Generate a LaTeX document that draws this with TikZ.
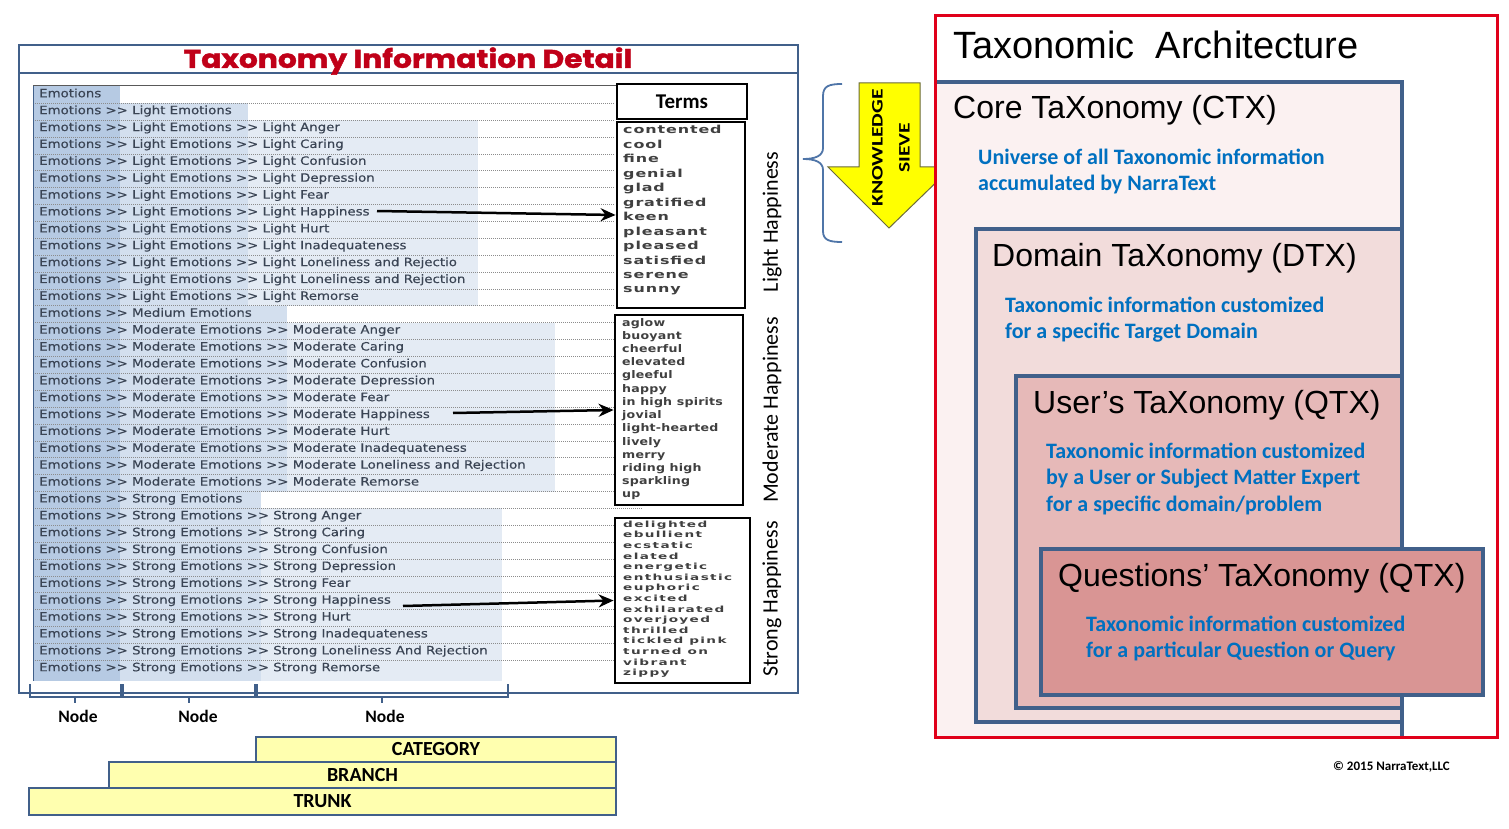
\documentclass[tikz,border=0pt]{standalone}
\usepackage{graphicx}
\usepackage{fontspec}
\setmainfont{Carlito}
\newfontfamily\rowfont{DejaVu Sans}[FakeStretch=1.16,Ligatures=TeXOff,FakeBold=0.4]
\newfontfamily\termfont{DejaVu Sans Bold}[FakeStretch=1.45,LetterSpace=8]
\newfontfamily\termfontB{DejaVu Sans Bold}[FakeStretch=1.2,LetterSpace=2]
\newfontfamily\termfontC{DejaVu Sans Bold}[FakeStretch=1.6,LetterSpace=16]
\newfontfamily\arialf{Liberation Sans}
\newfontfamily\titlef{Poppins}[FakeBold=1.5]
\usetikzlibrary{arrows.meta,calc}
\definecolor{frame}{HTML}{41608A}
\definecolor{braceblue}{HTML}{4F75A8}
\definecolor{shA}{HTML}{B6CAE3}
\definecolor{shB}{HTML}{D3DFEE}
\definecolor{shC}{HTML}{E4EBF4}
\definecolor{rowgray}{HTML}{3A4454}
\definecolor{termgray}{HTML}{404040}
\definecolor{sepgray}{HTML}{8C8C8C}
\definecolor{ttlred}{HTML}{C00018}
\definecolor{barfill}{HTML}{FFFFAF}
\definecolor{bluetxt}{HTML}{0070C0}
\definecolor{ctxfill}{HTML}{FBF1F1}
\definecolor{dtxfill}{HTML}{F2DCDB}
\definecolor{utxfill}{HTML}{E6B9B8}
\definecolor{qtxfill}{HTML}{D99594}
\definecolor{redframe}{HTML}{E0001A}
\definecolor{sieveyellow}{HTML}{FFFF00}
\definecolor{sieveedge}{HTML}{6B6B3A}
\tikzset{
  rowlabel/.style={inner sep=0pt, anchor=base west, text=rowgray, font=\rowfont\fontsize{11.5}{13}\selectfont},
  termA/.style={inner sep=0pt, anchor=base west, text=termgray, font=\termfont\fontsize{11}{13}\selectfont},
  termB/.style={inner sep=0pt, anchor=base west, text=termgray, font=\termfontB\fontsize{10.5}{13}\selectfont},
  termC/.style={inner sep=0pt, anchor=base west, text=termgray, font=\termfontC\fontsize{8.5}{10}\selectfont},
  tbox/.style={draw=black, line width=2.8pt, fill=white, inner sep=0pt},
  sepline/.style={sepgray, line width=0.8pt, dash pattern=on 1pt off 1pt},
  arr/.style={draw=black, line width=2.5pt, -{Stealth[length=15pt,width=13pt]}},
  sidelab/.style={rotate=90, inner sep=0pt, font=\fontsize{22}{26}\selectfont},
  bracket/.style={draw=frame, line width=1.6pt},
  nodelab/.style={inner sep=0pt, font=\bfseries\fontsize{17.5}{20}\selectfont},
  bar/.style={draw=frame, line width=1.5pt, fill=barfill, inner sep=0pt, font=\bfseries\fontsize{20}{24}\selectfont},
  hdr/.style={anchor=base west, inner sep=0pt, font=\arialf\fontsize{32}{38}\selectfont},
  blu/.style={anchor=base west, inner sep=0pt, text=bluetxt, font=\bfseries\fontsize{22}{26}\selectfont},
  archbox/.style={draw=frame, line width=3.5pt}
}
\begin{document}
\begin{tikzpicture}[x=1pt,y=-1pt]
\useasboundingbox (0,0) rectangle (1509,829);
\fill[white] (0,0) rectangle (1509,829);

% ---------------- left panel ----------------
\draw[frame, line width=2.5pt] (19,45) rectangle (798,693);
\draw[frame, line width=2.5pt] (19,73) -- (798,73);
\node[inner sep=0pt, text=ttlred, font=\titlef\bfseries\fontsize{25}{30}\selectfont] (ttl) at (408,61) {\scalebox{1.19}[1.02]{Taxonomy Information Detail}};

% shading
\fill[shA] (33,86) rectangle (120,681);
\fill[shB] (120,103.3) rectangle (248,305.9);
\fill[shC] (248,120.2) rectangle (478,305.9);
\fill[shB] (120,305.9) rectangle (287,491.5);
\fill[shC] (287,322.8) rectangle (555,491.5);
\fill[shB] (120,491.5) rectangle (261,681);
\fill[shC] (261,508.4) rectangle (502,681);

% separators
\foreach \i in {0,...,33} \draw[sepline] (33,{103.3+16.88*\i}) -- (615,{103.3+16.88*\i});
\draw[sepline] (615,508.4) -- (643,508.4);
\draw[gray!70!black, line width=1pt] (33,86) -- (617,86);
\draw[frame, line width=1pt] (33,86) -- (33,681);

% rows
\def\LE{Emotions >> Light Emotions >> Light}
\def\ME{Emotions >> Moderate Emotions >> Moderate}
\def\SE{Emotions >> Strong Emotions >> Strong}
\foreach \t [count=\i from 0] in {Emotions,Emotions >> Light Emotions,
  \LE\ Anger,\LE\ Caring,\LE\ Confusion,\LE\ Depression,\LE\ Fear,\LE\ Happiness,\LE\ Hurt,
  \LE\ Inadequateness,\LE\ Loneliness and Rejectio,\LE\ Loneliness and Rejection,\LE\ Remorse,
  Emotions >> Medium Emotions,
  \ME\ Anger,\ME\ Caring,\ME\ Confusion,\ME\ Depression,\ME\ Fear,\ME\ Happiness,\ME\ Hurt,
  \ME\ Inadequateness,\ME\ Loneliness and Rejection,\ME\ Remorse,
  Emotions >> Strong Emotions,
  \SE\ Anger,\SE\ Caring,\SE\ Confusion,\SE\ Depression,\SE\ Fear,\SE\ Happiness,\SE\ Hurt,
  \SE\ Inadequateness,\SE\ Loneliness And Rejection,\SE\ Remorse}
  \node[rowlabel] (r\i) at (39,{97.3+16.88*\i}) {\t};

% terms boxes
\node[tbox, minimum width=130pt, minimum height=35pt, font=\bfseries\fontsize{21}{24}\selectfont] (terms) at (682,101.5) {Terms};
\node[tbox, minimum width=128pt, minimum height=186pt] (tb1) at (681,215) {};
\node[tbox, minimum width=128pt, minimum height=190pt] (tb2) at (679,410) {};
\node[tbox, minimum width=135pt, minimum height=165pt] (tb3) at (682.5,600.5) {};

\foreach \w [count=\i from 0] in {contented,cool,fine,genial,glad,gratified,keen,pleasant,pleased,satisfied,serene,sunny}
  \node[termA] (ta\i) at (623,{134+14.45*\i}) {\w};
\foreach \w [count=\i from 0] in {aglow,buoyant,cheerful,elevated,gleeful,happy,in high spirits,jovial,light-hearted,lively,merry,riding high,sparkling,up}
  \node[termB] (tm\i) at (622,{326+13.23*\i}) {\w};
\foreach \w [count=\i from 0] in {delighted,ebullient,ecstatic,elated,energetic,enthusiastic,euphoric,excited,exhilarated,overjoyed,thrilled,tickled pink,turned on,vibrant,zippy}
  \node[termC] (ts\i) at (623,{527.3+10.6*\i}) {\w};

% arrows
\coordinate (s1) at (377,211);
\coordinate (s2) at (453,413);
\coordinate (s3) at (403,606);
\draw[arr] (s1) -- (tb1.west);
\draw[arr] (s2) -- (tb2.west);
\draw[arr] (s3) -- (tb3.west);

% side labels
\node[sidelab] (lh) at (772,222) {Light Happiness};
\node[sidelab] (mh) at (772,410) {Moderate Happiness};
\node[sidelab] (sh) at (772,599) {Strong Happiness};

% node brackets
\draw[bracket] (30,684) -- (30,697) -- (121,697) -- (121,684);
\draw[bracket] (75,697) -- (75,703);
\draw[bracket] (123,684) -- (123,697) -- (255,697) -- (255,684);
\draw[bracket] (189,697) -- (189,703);
\draw[bracket] (257,684) -- (257,697) -- (508,697) -- (508,684);
\draw[bracket] (382,697) -- (382,703);
\node[nodelab] (n1) at (78,716) {Node};
\node[nodelab] (n2) at (198,716) {Node};
\node[nodelab] (n3) at (385,716) {Node};

% bars
\node[bar, minimum width=587pt, minimum height=27pt] (trunk) at (322.5,801.5) {TRUNK};
\node[bar, minimum width=507pt, minimum height=26pt] (branch) at (362.5,775) {BRANCH};
\node[bar, minimum width=360pt, minimum height=25pt] (category) at (436,749.5) {CATEGORY};

% ---------------- knowledge sieve ----------------
\draw[braceblue, line width=1.8pt] (842,84) .. controls (829,84) and (823,86) .. (823,96) -- (823,148)
  .. controls (823,156) and (815,159) .. (803,159) .. controls (815,159) and (823,162) .. (823,170)
  -- (823,231) .. controls (823,240) and (829,242) .. (842,242);
\filldraw[fill=sieveyellow, draw=sieveedge, line width=1pt] (859,83) -- (920,83) -- (920,167) -- (952,167)
  -- (889,228) -- (828,167) -- (859,167) -- cycle;
\node[rotate=90, align=center, inner sep=0pt, font=\bfseries\fontsize{16}{27}\selectfont] (sieve) at (891,148)
  {\scalebox{1.35}[1]{KNOWLEDGE}\\\scalebox{1.35}[1]{SIEVE}};

% ---------------- right panel ----------------
\fill[ctxfill] (936,82) rectangle (1402,736);
\filldraw[fill=dtxfill, archbox] (1402,229) -- (976,229) -- (976,722) -- (1402,722);
\filldraw[fill=utxfill, archbox] (1402,376) -- (1016,376) -- (1016,708) -- (1402,708);
\draw[archbox] (935,82) -- (1402,82) -- (1402,737);
\filldraw[fill=qtxfill, archbox] (1041,549) rectangle (1483,695);
\draw[redframe, line width=3pt] (935,16) rectangle (1497,737);

\node[anchor=base west, inner sep=0pt, font=\arialf\fontsize{38}{44}\selectfont] (arch) at (953,59) {Taxonomic\ \ Architecture};
\node[hdr] (ctx) at (953,119) {Core TaXonomy (CTX)};
\node[blu] (ctx1) at (978,165) {Universe of all Taxonomic information};
\node[blu] (ctx2) at (978,191) {accumulated by NarraText};
\node[hdr] (dtx) at (992,266) {Domain TaXonomy (DTX)};
\node[blu] (dtx1) at (1005,312) {Taxonomic information customized};
\node[blu] (dtx2) at (1005,338) {for a specific Target Domain};
\node[hdr] (utx) at (1033,413) {User’s TaXonomy (QTX)};
\node[blu] (utx1) at (1046,458) {Taxonomic information customized};
\node[blu] (utx2) at (1046,484) {by a User or Subject Matter Expert};
\node[blu] (utx3) at (1046,511) {for a specific domain/problem};
\node[hdr] (qtx) at (1058,586) {Questions’ TaXonomy (QTX)};
\node[blu] (qtx1) at (1086,631) {Taxonomic information customized};
\node[blu] (qtx2) at (1086,657) {for a particular Question or Query};
\node[anchor=base west, inner sep=0pt, font=\bfseries\fontsize{13}{15}\selectfont] (copy) at (1333,770) {© 2015 NarraText,LLC};
\end{tikzpicture}
\end{document}
